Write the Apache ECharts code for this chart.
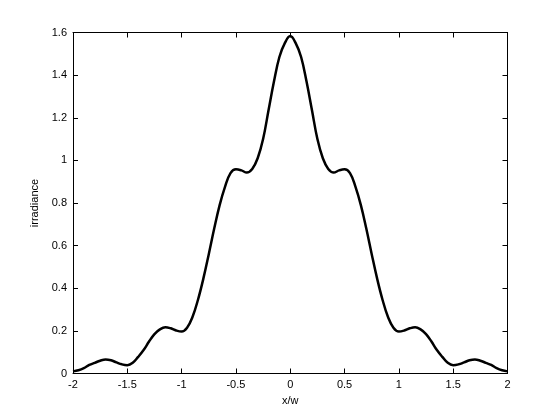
<!DOCTYPE html>
<html>
<head>
<meta charset="utf-8">
<script src="https://cdn.jsdelivr.net/npm/echarts@6/dist/echarts.min.js"></script>
<style>
  html, body { margin: 0; padding: 0; background: #fff; }
  #main { width: 560px; height: 420px; }
</style>
</head>
<body>
<div id="main"></div>
<script>
// x/w 采样点
var xs = [-2.00, -1.95, -1.90, -1.85, -1.80, -1.75, -1.70, -1.65, -1.60, -1.55,
          -1.50, -1.45, -1.40, -1.35, -1.30, -1.25, -1.20, -1.15, -1.10, -1.05,
          -1.00, -0.95, -0.90, -0.85, -0.80, -0.75, -0.70, -0.65, -0.60, -0.55,
          -0.50, -0.45, -0.40, -0.35, -0.30, -0.25, -0.20, -0.15, -0.10, -0.05,
           0.00,  0.05,  0.10,  0.15,  0.20,  0.25,  0.30,  0.35,  0.40,  0.45,
           0.50,  0.55,  0.60,  0.65,  0.70,  0.75,  0.80,  0.85,  0.90,  0.95,
           1.00,  1.05,  1.10,  1.15,  1.20,  1.25,  1.30,  1.35,  1.40,  1.45,
           1.50,  1.55,  1.60,  1.65,  1.70,  1.75,  1.80,  1.85,  1.90,  1.95, 2.00];

// irradiance 读数
var irradiance = [0.010, 0.015, 0.025, 0.040, 0.050, 0.060, 0.066, 0.062, 0.052, 0.043,
                  0.039, 0.050, 0.078, 0.110, 0.150, 0.185, 0.207, 0.217, 0.212, 0.202,
                  0.197, 0.215, 0.265, 0.345, 0.445, 0.560, 0.680, 0.790, 0.877, 0.940,
                  0.958, 0.953, 0.943, 0.960, 1.010, 1.100, 1.235, 1.370, 1.485, 1.550,
                  1.583, 1.550, 1.485, 1.370, 1.235, 1.100, 1.010, 0.960, 0.943, 0.953,
                  0.958, 0.940, 0.877, 0.790, 0.680, 0.560, 0.445, 0.345, 0.265, 0.215,
                  0.197, 0.202, 0.212, 0.217, 0.207, 0.185, 0.150, 0.110, 0.078, 0.050,
                  0.039, 0.043, 0.052, 0.062, 0.066, 0.060, 0.050, 0.040, 0.025, 0.015, 0.010];

var xTicks = [-2, -1.5, -1, -0.5, 0, 0.5, 1, 1.5, 2];
var yTicks = [0, 0.2, 0.4, 0.6, 0.8, 1, 1.2, 1.4, 1.6];

var points = [];
for (var i = 0; i < xs.length; i++) {
    points.push([xs[i], irradiance[i]]);
}

var myChart = echarts.init(document.getElementById('main'));

var lineStyle = { color: '#000', width: 1 };
var labelFont = { color: '#000', fontSize: 11, fontFamily: 'Liberation Sans, Arial, sans-serif' };

var option = {
    animation: false,
    backgroundColor: '#fff',
    grid: { left: 73, right: 52.5, top: 32.5, bottom: 46.5, containLabel: false },
    xAxis: [{
        type: 'value',
        position: 'bottom',
        min: xTicks[0],
        max: xTicks[xTicks.length - 1],
        interval: 0.5,
        name: 'x/w',
        nameLocation: 'middle',
        nameGap: 22,
        nameTextStyle: labelFont,
        axisLine: { onZero: false, lineStyle: lineStyle },
        axisTick: { inside: true, length: 5, lineStyle: lineStyle },
        axisLabel: Object.assign({ margin: 6 }, labelFont),
        splitLine: { show: false }
    }, {
        type: 'value',
        position: 'top',
        min: xTicks[0],
        max: xTicks[xTicks.length - 1],
        interval: 0.5,
        axisLine: { onZero: false, lineStyle: lineStyle },
        axisTick: { inside: true, length: 5, lineStyle: lineStyle },
        axisLabel: { show: false },
        splitLine: { show: false }
    }],
    yAxis: [{
        type: 'value',
        position: 'left',
        min: yTicks[0],
        max: yTicks[yTicks.length - 1],
        interval: 0.2,
        name: 'irradiance',
        nameLocation: 'middle',
        nameGap: 32,
        nameTextStyle: labelFont,
        axisLine: { show: true, onZero: false, lineStyle: lineStyle },
        axisTick: { show: true, inside: true, length: 5, lineStyle: lineStyle },
        axisLabel: Object.assign({ margin: 6 }, labelFont),
        splitLine: { show: false }
    }, {
        type: 'value',
        position: 'right',
        min: yTicks[0],
        max: yTicks[yTicks.length - 1],
        interval: 0.2,
        axisLine: { show: true, onZero: false, lineStyle: lineStyle },
        axisTick: { show: true, inside: true, length: 5, lineStyle: lineStyle },
        axisLabel: { show: false },
        splitLine: { show: false }
    }],
    series: [{
        type: 'line',
        xAxisIndex: 0,
        yAxisIndex: 0,
        data: points,
        smooth: 0.4,
        symbol: 'none',
        lineStyle: { color: '#000', width: 2.5 }
    }]
};

myChart.setOption(option);
</script>
</body>
</html>
